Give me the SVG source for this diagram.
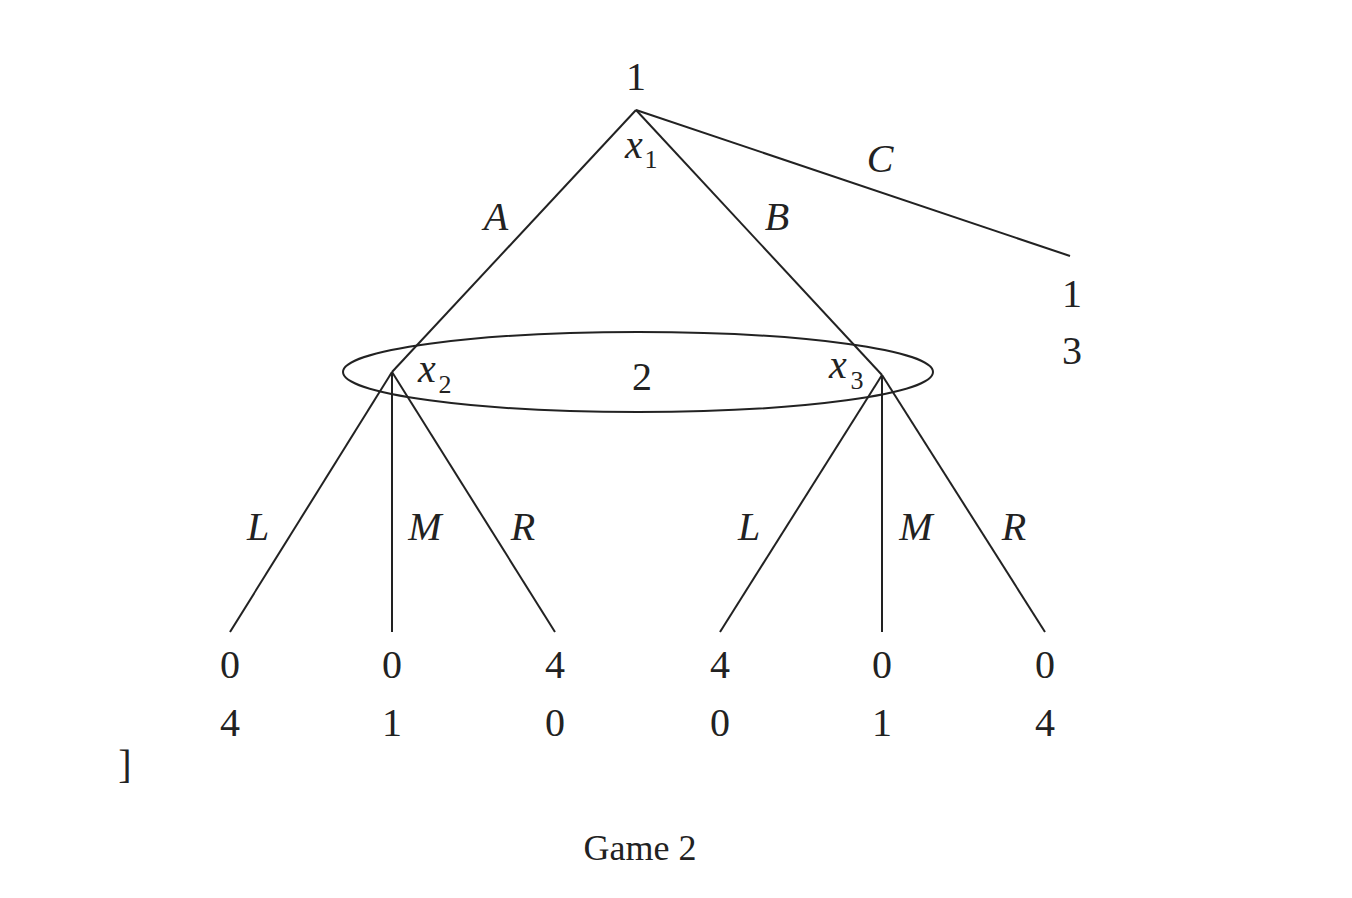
<svg xmlns="http://www.w3.org/2000/svg" width="1352" height="898" viewBox="0 0 1352 898">
<style>
text{font-family:"Liberation Serif",serif;font-size:40px;fill:#222;text-anchor:middle}
.i{font-style:italic}
.s{font-size:26px}
line,ellipse{stroke:#222;stroke-width:2;fill:none}
</style>
<rect width="1352" height="898" fill="#fff"/>
<g id="connectors">
<line x1="636" y1="110" x2="392" y2="372"/>
<line x1="636" y1="110" x2="882" y2="375"/>
<line x1="636" y1="110" x2="1070" y2="256"/>
<line x1="392" y1="372" x2="230" y2="632"/>
<line x1="392" y1="372" x2="392" y2="632"/>
<line x1="392" y1="372" x2="555" y2="632"/>
<line x1="882" y1="375" x2="720" y2="632"/>
<line x1="882" y1="375" x2="882" y2="632"/>
<line x1="882" y1="375" x2="1045" y2="632"/>
</g>
<g id="infoset"><ellipse cx="638" cy="372" rx="295" ry="40"/><text x="642" y="390">2</text></g>
<g id="x1"><text x="636" y="90">1</text><text x="634" y="158" class="i">x</text><text x="651" y="168" class="s">1</text></g>
<g id="x2"><text x="427" y="382" class="i">x</text><text x="445" y="393" class="s">2</text></g>
<g id="x3"><text x="838" y="378" class="i">x</text><text x="857" y="389" class="s">3</text></g>
<g id="labels">
<text x="496" y="230" class="i">A</text>
<text x="777" y="230" class="i">B</text>
<text x="880" y="172" class="i">C</text>
<text x="258" y="540" class="i">L</text>
<text x="425" y="540" class="i">M</text>
<text x="523" y="540" class="i">R</text>
<text x="749" y="540" class="i">L</text>
<text x="916" y="540" class="i">M</text>
<text x="1014" y="540" class="i">R</text>
</g>
<g id="payC"><text x="1072" y="307">1</text><text x="1072" y="364">3</text></g>
<g id="leaves">
<text x="230" y="678">0</text><text x="230" y="736">4</text>
<text x="392" y="678">0</text><text x="392" y="736">1</text>
<text x="555" y="678">4</text><text x="555" y="736">0</text>
<text x="720" y="678">4</text><text x="720" y="736">0</text>
<text x="882" y="678">0</text><text x="882" y="736">1</text>
<text x="1045" y="678">0</text><text x="1045" y="736">4</text>
</g>
<text x="125" y="778">]</text>
<text x="640" y="860" style="font-size:36px">Game 2</text>
</svg>
